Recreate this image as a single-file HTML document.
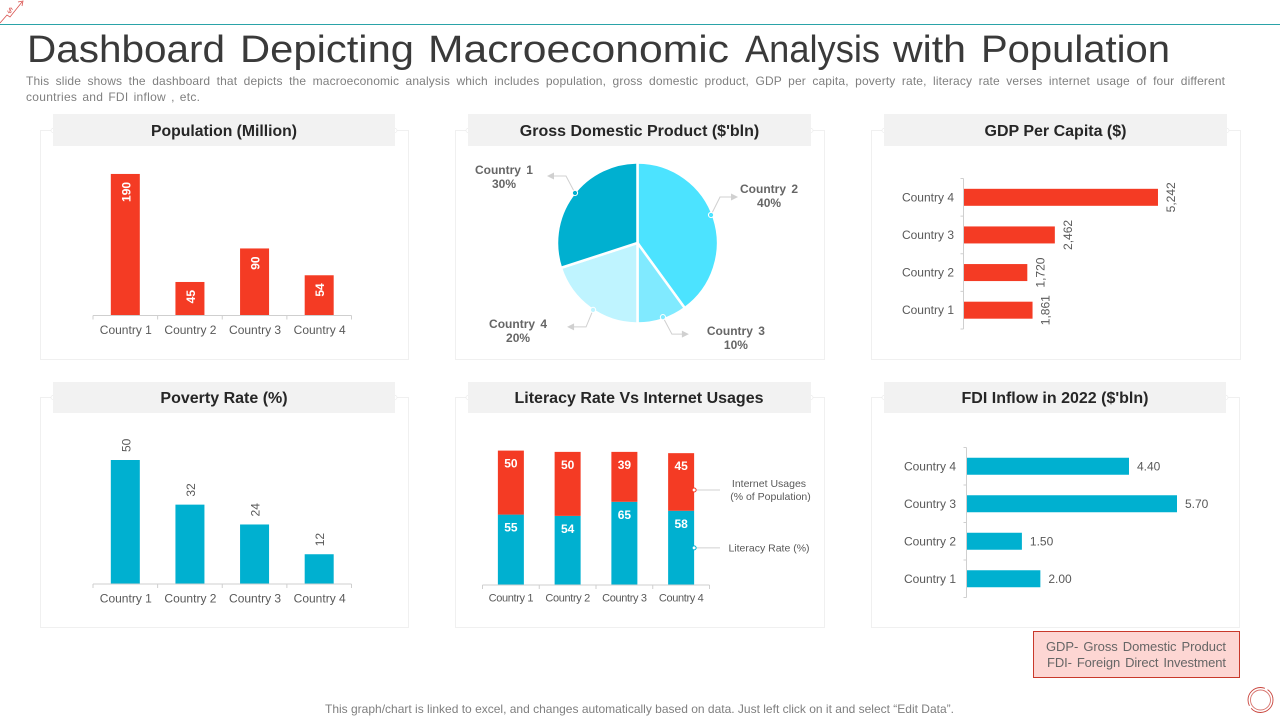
<!DOCTYPE html>
<html lang="en">
<head>
<meta charset="utf-8">
<title>Dashboard Depicting Macroeconomic Analysis with Population</title>
<style>
html,body{margin:0;padding:0;background:#fff;width:1280px;height:720px;overflow:hidden}
svg{display:block;font-family:"Liberation Sans",Arial,sans-serif}
.card{fill:#fff;stroke:#f0f0f0;stroke-width:1}
.hdr{fill:#f2f2f2}
.hdr-t{font-size:16px;font-weight:bold;fill:#262626;text-anchor:middle}
.knob{fill:#fff;stroke:#ececec;stroke-width:.7}
</style>
</head>
<body>
<svg id="dash" width="1280" height="720" viewBox="0 0 1280 720" xmlns="http://www.w3.org/2000/svg">
  <rect width="1280" height="720" fill="#fff"/>
  <line x1="0" y1="24.5" x2="1280" y2="24.5" stroke="#2aa3a8" stroke-width="1"/>
  <g fill="none" stroke="#d9534f" stroke-width=".8">
    <path d="M0 23 L7 15 L10 17 L22 2"/>
    <path d="M18 2 L23 1 L22 6"/>
    <text x="8" y="13" font-size="8" fill="#d9534f" stroke="none" transform="rotate(30 10 10)">$</text>
  </g>

  <text y="62" font-size="38" fill="#3a3a3a" lengthAdjust="spacingAndGlyphs"><tspan x="27" textLength="198" lengthAdjust="spacingAndGlyphs">Dashboard</tspan> <tspan x="240" textLength="174" lengthAdjust="spacingAndGlyphs">Depicting</tspan> <tspan x="428" textLength="301" lengthAdjust="spacingAndGlyphs">Macroeconomic</tspan> <tspan x="745" textLength="135" lengthAdjust="spacingAndGlyphs">Analysis</tspan> <tspan x="893" textLength="73" lengthAdjust="spacingAndGlyphs">with</tspan> <tspan x="981" textLength="189" lengthAdjust="spacingAndGlyphs">Population</tspan></text>
  <text x="26" y="85" font-size="12" fill="#7f7f7f" word-spacing="3" textLength="1199" lengthAdjust="spacing">This slide shows the dashboard that depicts the macroeconomic analysis which includes population, gross domestic product, GDP per capita, poverty rate, literacy rate verses internet usage of four different</text>
  <text x="26" y="101" font-size="12" fill="#7f7f7f" word-spacing="1.5" textLength="174" lengthAdjust="spacing">countries and FDI inflow , etc.</text>

  <g>
    <rect class="card" x="40.5" y="130.5" width="368" height="229"/>
    <circle class="knob" cx="53" cy="130.5" r="2"/>
    <circle class="knob" cx="395" cy="130.5" r="2"/>
    <rect class="hdr" x="53" y="114" width="342" height="32"/>
    <text class="hdr-t" x="224" y="136" textLength="146" lengthAdjust="spacingAndGlyphs">Population (Million)</text>
  </g>
  <g>
    <rect class="card" x="455.5" y="130.5" width="369" height="229"/>
    <circle class="knob" cx="468" cy="130.5" r="2"/>
    <circle class="knob" cx="811" cy="130.5" r="2"/>
    <rect class="hdr" x="468" y="114" width="343" height="32"/>
    <text class="hdr-t" x="639.5" y="136">Gross Domestic Product ($'bln)</text>
  </g>
  <g>
    <rect class="card" x="871.5" y="130.5" width="369" height="229"/>
    <circle class="knob" cx="884" cy="130.5" r="2"/>
    <circle class="knob" cx="1227" cy="130.5" r="2"/>
    <rect class="hdr" x="884" y="114" width="343" height="32"/>
    <text class="hdr-t" x="1055.5" y="136">GDP Per Capita ($)</text>
  </g>
  <g>
    <rect class="card" x="40.5" y="397.5" width="368" height="230"/>
    <circle class="knob" cx="53" cy="397.5" r="2"/>
    <circle class="knob" cx="395" cy="397.5" r="2"/>
    <rect class="hdr" x="53" y="382" width="342" height="31"/>
    <text class="hdr-t" x="224" y="403">Poverty Rate (%)</text>
  </g>
  <g>
    <rect class="card" x="455.5" y="397.5" width="369" height="230"/>
    <circle class="knob" cx="468" cy="397.5" r="2"/>
    <circle class="knob" cx="811" cy="397.5" r="2"/>
    <rect class="hdr" x="468" y="382" width="343" height="31"/>
    <text class="hdr-t" x="639" y="403">Literacy Rate Vs Internet Usages</text>
  </g>
  <g>
    <rect class="card" x="871.5" y="397.5" width="368" height="230"/>
    <circle class="knob" cx="884" cy="397.5" r="2"/>
    <circle class="knob" cx="1226" cy="397.5" r="2"/>
    <rect class="hdr" x="884" y="382" width="342" height="31"/>
    <text class="hdr-t" x="1055" y="403">FDI Inflow in 2022 ($'bln)</text>
  </g>

  <g id="population-chart"></g>
  <g id="gdp-chart"></g>
  <g id="capita-chart"></g>
  <g id="poverty-chart"></g>
  <g id="literacy-chart"></g>
  <g id="fdi-chart"></g>

  <g>
    <rect x="1033.5" y="631.5" width="206" height="46" fill="#fdd6d3" stroke="#c8392b" stroke-width="1"/>
    <text x="1046" y="651" font-size="13" fill="#666" word-spacing="1.5" textLength="180" lengthAdjust="spacing">GDP- Gross Domestic Product</text>
    <text x="1047" y="667" font-size="13" fill="#666" word-spacing="1.5" textLength="179" lengthAdjust="spacing">FDI- Foreign Direct Investment</text>
  </g>

  <text x="325" y="713" font-size="12" fill="#7f7f7f" textLength="629" lengthAdjust="spacing">This graph/chart is linked to excel, and changes automatically based on data. Just left click on it and select “Edit Data”.</text>

  <g fill="none" stroke="#c9443c">
    <circle cx="1260.5" cy="700" r="12.5" stroke-width=".9" stroke-dasharray="30 3 30 3 12 0"/>
    <circle cx="1260.5" cy="700" r="10" stroke-width=".9" opacity=".75"/>
  </g>
</svg>

<script>
const categories = ["Country 1", "Country 2", "Country 3", "Country 4"];
const populationValues = [190, 45, 90, 54];
const gdpShares = [30, 40, 10, 20];
const capitaValues = [1861, 1720, 2462, 5242];
const capitaLabels = ["1,861", "1,720", "2,462", "5,242"];
const povertyValues = [50, 32, 24, 12];
const literacyValues = [55, 54, 65, 58];
const internetValues = [50, 50, 39, 45];
const fdiValues = [2.00, 1.50, 5.70, 4.40];
const fdiLabels = ["2.00", "1.50", "5.70", "4.40"];

const RED = "#f43b24", BLUE = "#00b0d0", TICK = "#595959", AXIS = "#cfcfcf";
const NS = "http://www.w3.org/2000/svg";

function make(parent, tag, attrs, text) {
  const el = document.createElementNS(NS, tag);
  for (const k in attrs) el.setAttribute(k, attrs[k]);
  if (text !== undefined) el.textContent = text;
  parent.appendChild(el);
  return el;
}
function linear(origin, pxPerUnit) { return v => origin + v * pxPerUnit; }
function band(start, end, n) {
  const step = (end - start) / n;
  return i => start + step * (i + 0.5);
}

/* Horizontal category axis with tick marks and labels */
function xAxis(g, x0, x1, y, labelSize, spacing, labelDy, labelDx) {
  const line = make(g, "line", {x1: x0, x2: x1, y1: y, y2: y, stroke: AXIS});
  
  
  const step = (x1 - x0) / categories.length;
  for (let i = 0; i <= categories.length; i++) {
    const t = make(g, "line", {x1: x0 + step * i, x2: x0 + step * i, y1: y, y2: y + 4, stroke: AXIS});
    
    
  }
  categories.forEach((c, i) => {
    const l = make(g, "text", {x: x0 + step * (i + 0.5) + labelDx, y: y + labelDy, "font-size": labelSize, fill: TICK, "text-anchor": "middle", "letter-spacing": spacing}, c);
    
    
  });
}
/* Vertical category axis: first category at the bottom */
function yAxis(g, x, y0, y1, labelRight) {
  const line = make(g, "line", {x1: x, x2: x, y1: y0, y2: y1, stroke: AXIS});
  
  
  const step = (y1 - y0) / categories.length;
  for (let i = 0; i <= categories.length; i++) {
    const t = make(g, "line", {x1: x - 3, x2: x, y1: y0 + step * i, y2: y0 + step * i, stroke: AXIS});
    
    
  }
  categories.forEach((c, i) => {
    const l = make(g, "text", {x: labelRight, y: y1 - step * (i + 0.5) + 4, "font-size": 12, fill: TICK, "text-anchor": "end"}, c);
    
    
  });
}

/* Population column chart */
(function () {
  const g = document.getElementById("population-chart");
  const base = 315.5, bx = band(93, 351.5, 4), h = linear(0, 0.745), w = 29;
  populationValues.forEach((v, i) => {
    const r = make(g, "rect", {x: bx(i) - w / 2, y: base - h(v), width: w, height: h(v), fill: RED});
    
    
    const px = bx(i) + 5, py = base - h(v) + 8;
    const t = make(g, "text", {x: px, y: py, "font-size": 12, "font-weight": "bold", fill: "#fff", "text-anchor": "end", transform: `rotate(-90 ${px} ${py})`}, v);
    
    
  });
  xAxis(g, 93, 351.5, base, 12, 0, 18.5, 0.5);
})();

/* Poverty column chart */
(function () {
  const g = document.getElementById("poverty-chart");
  const base = 584, bx = band(93, 351.5, 4), h = linear(0, 2.48), w = 29;
  povertyValues.forEach((v, i) => {
    const r = make(g, "rect", {x: bx(i) - w / 2, y: base - h(v), width: w, height: h(v), fill: BLUE});
    
    
    const px = bx(i) + 5, py = base - h(v) - 8;
    const t = make(g, "text", {x: px, y: py, "font-size": 12, fill: TICK, transform: `rotate(-90 ${px} ${py})`}, v);
    
    
  });
  xAxis(g, 93, 351.5, base, 12, 0, 18.5, 0.5);
})();

/* GDP per capita horizontal bars */
(function () {
  const g = document.getElementById("capita-chart");
  const x0 = 963.5, y0 = 178.5, y1 = 329, sx = linear(0, 0.0371), hBar = 17;
  const by = i => y1 - (y1 - y0) / 4 * (i + 0.5);
  capitaValues.forEach((v, i) => {
    const r = make(g, "rect", {x: x0, y: by(i) - hBar / 2, width: sx(v), height: hBar, fill: RED});
    
    
    const px = x0 + sx(v) + 17, py = by(i);
    const t = make(g, "text", {x: px, y: py, "font-size": 12, fill: TICK, "text-anchor": "middle", transform: `rotate(-90 ${px} ${py})`}, capitaLabels[i]);
    
    
  });
  yAxis(g, x0, y0, y1, 954);
})();

/* FDI horizontal bars */
(function () {
  const g = document.getElementById("fdi-chart");
  const x0 = 966.5, y0 = 447.5, y1 = 597.5, sx = linear(0, 36.93), hBar = 17;
  const by = i => y1 - (y1 - y0) / 4 * (i + 0.5);
  fdiValues.forEach((v, i) => {
    const r = make(g, "rect", {x: x0, y: by(i) - hBar / 2, width: sx(v), height: hBar, fill: BLUE});
    
    
    const t = make(g, "text", {x: x0 + sx(v) + 8, y: by(i) + 4, "font-size": 12, fill: TICK}, fdiLabels[i]);
    
    
  });
  yAxis(g, x0, y0, y1, 956);
})();

/* Literacy vs internet stacked columns */
(function () {
  const g = document.getElementById("literacy-chart");
  const base = 585, bx = band(482.5, 709.5, 4), h = linear(0, 1.28), w = 26;
  literacyValues.forEach((v, i) => {
    const top = base - h(v), top2 = top - h(internetValues[i]);
    const a = make(g, "rect", {x: bx(i) - w / 2, y: top, width: w, height: h(v), fill: BLUE});
    
    
    const b = make(g, "rect", {x: bx(i) - w / 2, y: top2, width: w, height: h(internetValues[i]), fill: RED});
    
    
    const la = make(g, "text", {x: bx(i), y: top + 17, "font-size": 12, "font-weight": "bold", fill: "#fff", "text-anchor": "middle"}, v);
    
    
    const lb = make(g, "text", {x: bx(i), y: top2 + 17, "font-size": 12, "font-weight": "bold", fill: "#fff", "text-anchor": "middle"}, internetValues[i]);
    
    
  });
  xAxis(g, 482.5, 709.5, base, 11, -0.35, 16.5, 0);

  const last = categories.length - 1;
  const edge = bx(last) + w / 2;
  const litTop = base - h(literacyValues[last]);
  const litY = (litTop + base) / 2;
  const intY = litTop - h(internetValues[last]) * 0.36;
  [[intY, RED, "internet-legend-leader"], [litY, BLUE, "literacy-legend-leader"]].forEach(d => {
    const ln = make(g, "line", {x1: edge, x2: 720, y1: d[0], y2: d[0], stroke: "#d0d0d0"});
    
    
    const c = make(g, "circle", {cx: edge, cy: d[0], r: 2, fill: "#fff", stroke: d[1], "stroke-width": 1});
    
    
  });
  const t1 = make(g, "text", {x: 769, y: intY - 3, "font-size": 10.5, fill: TICK, "text-anchor": "middle"}, "Internet Usages");
  
  
  const t2 = make(g, "text", {x: 770.5, y: intY + 10, "font-size": 10.5, fill: TICK, "text-anchor": "middle"}, "(% of Population)");
  
  
  const t3 = make(g, "text", {x: 769, y: litY + 3.5, "font-size": 10.5, fill: TICK, "text-anchor": "middle"}, "Literacy Rate (%)");
  
  
})();

/* GDP pie: starts at 12 o'clock with Country 2, clockwise */
(function () {
  const g = document.getElementById("gdp-chart");
  const cx = 637.5, cy = 243, r = 80.5;
  const order = [1, 2, 3, 0];
  const fills = {0: "#00b0d0", 1: "#4ce3ff", 2: "#80eaff", 3: "#bff4ff"};
  /* leader-line styling offsets per slice, relative to the computed anchor on the slice */
  const leaderStyle = {
    0: {ndx: 1.4, ndy: -3.6, ex: -9, ey: -17, tip: -19, lx: -43, ly: -2},
    1: {ndx: -1.6, ndy: -3.6, ex: 9, ey: -18, tip: 18, lx: 31, ly: -4},
    2: {ndx: 1, ndy: -1, ex: 9, ey: 17, tip: 17, lx: 47, ly: 1},
    3: {ndx: 2, ndy: 3, ex: -7, ey: 17, tip: -19, lx: -49, ly: 1}
  };
  const total = gdpShares.reduce((a, b) => a + b, 0);
  const pt = (deg, rad) => [cx + rad * Math.sin(deg * Math.PI / 180), cy - rad * Math.cos(deg * Math.PI / 180)];
  let start = 0;
  order.forEach(idx => {
    const sweep = gdpShares[idx] / total * 360, end = start + sweep;
    const a = pt(start, r), b = pt(end, r);
    const d = `M${cx} ${cy} L${a[0]} ${a[1]} A${r} ${r} 0 ${sweep > 180 ? 1 : 0} 1 ${b[0]} ${b[1]} Z`;
    const s = make(g, "path", {d: d, fill: fills[idx], stroke: "#fff", "stroke-width": 2.5});
    
    

    const mid = start + sweep / 2;
    const st = leaderStyle[idx];
    const anchor = pt(mid, 79);
    const dx = anchor[0] + st.ndx, dy = anchor[1] + st.ndy;
    const ex = dx + st.ex, ey = dy + st.ey, tip = ex + st.tip;
    const sx = st.tip > 0 ? 1 : -1;
    const ln = make(g, "polyline", {points: `${dx},${dy} ${ex},${ey} ${tip - sx * 5},${ey}`, fill: "none", stroke: "#d0d0d0", "stroke-width": 1});
    
    
    const ar = make(g, "polygon", {points: `${tip},${ey} ${tip - sx * 7},${ey - 3.5} ${tip - sx * 7},${ey + 3.5}`, fill: "#d0d0d0"});
    
    
    const c = make(g, "circle", {cx: dx, cy: dy, r: 2.6, fill: fills[idx], stroke: "#fff", "stroke-width": 1});
    
    
    const lx = tip + st.lx;
    const l1 = make(g, "text", {x: lx, y: ey + st.ly, "font-size": 12, "font-weight": "bold", fill: "#666", "text-anchor": "middle", "word-spacing": "2"}, categories[idx]);
    
    
    const l2 = make(g, "text", {x: lx, y: ey + st.ly + 14, "font-size": 12, "font-weight": "bold", fill: "#666", "text-anchor": "middle"}, gdpShares[idx] + "%");
    
    
    start = end;
  });
})();
</script>
</body>
</html>
